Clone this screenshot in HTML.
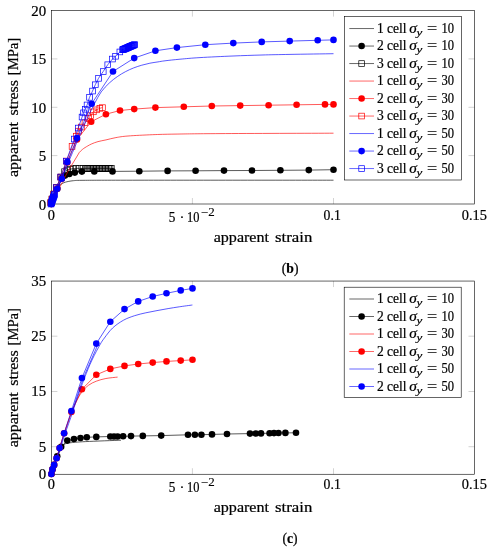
<!DOCTYPE html>
<html lang="en"><head><meta charset="utf-8"><title>Apparent stress vs apparent strain</title>
<style>html,body{margin:0;padding:0;background:#fff}body{width:493px;height:550px;overflow:hidden}svg{display:block}text{font-family:"Liberation Serif", serif;fill:#000;stroke:#000;stroke-width:0.22px}</style>
</head><body>
<svg width="493" height="550" viewBox="0 0 493 550">
<rect width="493" height="550" fill="#fff"/>
<g id="plot-b">
<path d="M192.4 204.0v-6M192.4 10.6v6" stroke="#a6a6a6" stroke-width="0.5" fill="none"/>
<path d="M333.5 204.0v-6M333.5 10.6v6" stroke="#a6a6a6" stroke-width="0.5" fill="none"/>
<path d="M51.4 58.9h6M474.5 58.9h-6" stroke="#a6a6a6" stroke-width="0.5" fill="none"/>
<path d="M51.4 107.3h6M474.5 107.3h-6" stroke="#a6a6a6" stroke-width="0.5" fill="none"/>
<path d="M51.4 155.6h6M474.5 155.6h-6" stroke="#a6a6a6" stroke-width="0.5" fill="none"/>
<rect x="51.4" y="10.6" width="423.1" height="193.4" fill="none" stroke="#000" stroke-width="0.6"/>
<path d="M51.40 204.00 C51.83 202.83 53.03 199.47 54.00 197.00 C54.97 194.53 56.37 190.98 57.20 189.20 C58.03 187.42 58.33 187.13 59.00 186.30 C59.67 185.47 60.15 184.88 61.20 184.20 C62.25 183.52 63.27 182.78 65.30 182.20 C67.33 181.62 70.02 181.02 73.40 180.70 C76.78 180.38 74.50 180.38 85.60 180.30 C96.70 180.22 98.68 180.22 140.00 180.20 C181.32 180.18 301.25 180.20 333.50 180.20" fill="none" stroke="#000" stroke-width="0.65"/>
<polyline points="51.4,204.0 53.1,197.0 57.2,188.8 61.8,178.0 65.0,175.6 69.3,174.0 74.8,172.6 81.9,171.6 94.3,171.4 112.5,171.4 139.3,171.2 167.6,170.9 195.6,170.8 224.0,170.6 252.0,170.5 280.4,170.3 308.8,170.1 333.5,169.7" fill="none" stroke="#000" stroke-width="0.65" stroke-linejoin="round" />
<circle cx="51.4" cy="204.0" r="3.3" fill="#000"/>
<circle cx="53.1" cy="197.0" r="3.3" fill="#000"/>
<circle cx="57.2" cy="188.8" r="3.3" fill="#000"/>
<circle cx="61.8" cy="178.0" r="3.3" fill="#000"/>
<circle cx="65.0" cy="175.6" r="3.3" fill="#000"/>
<circle cx="69.3" cy="174.0" r="3.3" fill="#000"/>
<circle cx="74.8" cy="172.6" r="3.3" fill="#000"/>
<circle cx="81.9" cy="171.6" r="3.3" fill="#000"/>
<circle cx="94.3" cy="171.4" r="3.3" fill="#000"/>
<circle cx="112.5" cy="171.4" r="3.3" fill="#000"/>
<circle cx="139.3" cy="171.2" r="3.3" fill="#000"/>
<circle cx="167.6" cy="170.9" r="3.3" fill="#000"/>
<circle cx="195.6" cy="170.8" r="3.3" fill="#000"/>
<circle cx="224.0" cy="170.6" r="3.3" fill="#000"/>
<circle cx="252.0" cy="170.5" r="3.3" fill="#000"/>
<circle cx="280.4" cy="170.3" r="3.3" fill="#000"/>
<circle cx="308.8" cy="170.1" r="3.3" fill="#000"/>
<circle cx="333.5" cy="169.7" r="3.3" fill="#000"/>
<polyline points="50.8,202.6 52.0,199.0 53.7,194.0 56.5,187.6 60.8,177.0 64.6,171.6 67.2,170.0 70.0,169.2 73.0,168.7 76.0,168.4 79.5,168.4 83.0,168.4 86.0,168.4 87.5,168.4 89.0,168.4 90.5,168.4 92.0,168.4 93.5,168.4 95.0,168.4 96.5,168.4 98.0,168.4 99.5,168.4 101.0,168.4 102.5,168.4 104.0,168.4 105.5,168.4 107.0,168.4 108.5,168.4 110.0,168.4 111.3,168.4" fill="none" stroke="#000" stroke-width="0.65" stroke-linejoin="round" />
<rect x="47.9" y="199.8" width="5.7" height="5.7" fill="none" stroke="#000" stroke-width="0.7"/>
<rect x="49.1" y="196.2" width="5.7" height="5.7" fill="none" stroke="#000" stroke-width="0.7"/>
<rect x="50.9" y="191.2" width="5.7" height="5.7" fill="none" stroke="#000" stroke-width="0.7"/>
<rect x="53.6" y="184.8" width="5.7" height="5.7" fill="none" stroke="#000" stroke-width="0.7"/>
<rect x="57.9" y="174.2" width="5.7" height="5.7" fill="none" stroke="#000" stroke-width="0.7"/>
<rect x="61.7" y="168.8" width="5.7" height="5.7" fill="none" stroke="#000" stroke-width="0.7"/>
<rect x="64.4" y="167.2" width="5.7" height="5.7" fill="none" stroke="#000" stroke-width="0.7"/>
<rect x="67.2" y="166.3" width="5.7" height="5.7" fill="none" stroke="#000" stroke-width="0.7"/>
<rect x="70.2" y="165.8" width="5.7" height="5.7" fill="none" stroke="#000" stroke-width="0.7"/>
<rect x="73.2" y="165.6" width="5.7" height="5.7" fill="none" stroke="#000" stroke-width="0.7"/>
<rect x="76.7" y="165.6" width="5.7" height="5.7" fill="none" stroke="#000" stroke-width="0.7"/>
<rect x="80.2" y="165.6" width="5.7" height="5.7" fill="none" stroke="#000" stroke-width="0.7"/>
<rect x="83.2" y="165.6" width="5.7" height="5.7" fill="none" stroke="#000" stroke-width="0.7"/>
<rect x="84.7" y="165.6" width="5.7" height="5.7" fill="none" stroke="#000" stroke-width="0.7"/>
<rect x="86.2" y="165.6" width="5.7" height="5.7" fill="none" stroke="#000" stroke-width="0.7"/>
<rect x="87.7" y="165.6" width="5.7" height="5.7" fill="none" stroke="#000" stroke-width="0.7"/>
<rect x="89.2" y="165.6" width="5.7" height="5.7" fill="none" stroke="#000" stroke-width="0.7"/>
<rect x="90.7" y="165.6" width="5.7" height="5.7" fill="none" stroke="#000" stroke-width="0.7"/>
<rect x="92.2" y="165.6" width="5.7" height="5.7" fill="none" stroke="#000" stroke-width="0.7"/>
<rect x="93.7" y="165.6" width="5.7" height="5.7" fill="none" stroke="#000" stroke-width="0.7"/>
<rect x="95.2" y="165.6" width="5.7" height="5.7" fill="none" stroke="#000" stroke-width="0.7"/>
<rect x="96.7" y="165.6" width="5.7" height="5.7" fill="none" stroke="#000" stroke-width="0.7"/>
<rect x="98.2" y="165.6" width="5.7" height="5.7" fill="none" stroke="#000" stroke-width="0.7"/>
<rect x="99.7" y="165.6" width="5.7" height="5.7" fill="none" stroke="#000" stroke-width="0.7"/>
<rect x="101.2" y="165.6" width="5.7" height="5.7" fill="none" stroke="#000" stroke-width="0.7"/>
<rect x="102.7" y="165.6" width="5.7" height="5.7" fill="none" stroke="#000" stroke-width="0.7"/>
<rect x="104.2" y="165.6" width="5.7" height="5.7" fill="none" stroke="#000" stroke-width="0.7"/>
<rect x="105.7" y="165.6" width="5.7" height="5.7" fill="none" stroke="#000" stroke-width="0.7"/>
<rect x="107.2" y="165.6" width="5.7" height="5.7" fill="none" stroke="#000" stroke-width="0.7"/>
<rect x="108.5" y="165.6" width="5.7" height="5.7" fill="none" stroke="#000" stroke-width="0.7"/>
<polyline points="51.4,204.0 60.0,186.8 68.3,170.7 76.0,158.0 79.4,152.3" fill="none" stroke="#f00" stroke-width="0.65" stroke-linejoin="round" />
<path d="M79.40 152.30 C79.83 151.88 81.07 150.58 82.00 149.80 C82.93 149.02 83.47 148.55 85.00 147.60 C86.53 146.65 89.03 145.10 91.20 144.10 C93.37 143.10 95.53 142.30 98.00 141.60 C100.47 140.90 103.02 140.57 106.00 139.90 C108.98 139.23 112.23 138.25 115.90 137.60 C119.57 136.95 121.92 136.48 128.00 136.00 C134.08 135.52 144.57 135.02 152.40 134.70 C160.23 134.38 163.73 134.28 175.00 134.10 C186.27 133.92 193.58 133.75 220.00 133.60 C246.42 133.45 314.58 133.27 333.50 133.20" fill="none" stroke="#f00" stroke-width="0.65"/>
<polyline points="51.4,204.0 53.1,197.0 57.2,188.8 61.8,178.7 67.3,162.5 77.0,139.5 91.2,121.7 105.9,114.2 120.0,110.5 134.2,109.1 155.4,107.6 183.8,106.8 211.8,106.0 240.2,105.6 268.6,105.2 296.6,104.8 325.0,104.4 333.5,104.4" fill="none" stroke="#f00" stroke-width="0.65" stroke-linejoin="round" />
<circle cx="51.4" cy="204.0" r="3.3" fill="#f00"/>
<circle cx="53.1" cy="197.0" r="3.3" fill="#f00"/>
<circle cx="57.2" cy="188.8" r="3.3" fill="#f00"/>
<circle cx="61.8" cy="178.7" r="3.3" fill="#f00"/>
<circle cx="67.3" cy="162.5" r="3.3" fill="#f00"/>
<circle cx="77.0" cy="139.5" r="3.3" fill="#f00"/>
<circle cx="91.2" cy="121.7" r="3.3" fill="#f00"/>
<circle cx="105.9" cy="114.2" r="3.3" fill="#f00"/>
<circle cx="120.0" cy="110.5" r="3.3" fill="#f00"/>
<circle cx="134.2" cy="109.1" r="3.3" fill="#f00"/>
<circle cx="155.4" cy="107.6" r="3.3" fill="#f00"/>
<circle cx="183.8" cy="106.8" r="3.3" fill="#f00"/>
<circle cx="211.8" cy="106.0" r="3.3" fill="#f00"/>
<circle cx="240.2" cy="105.6" r="3.3" fill="#f00"/>
<circle cx="268.6" cy="105.2" r="3.3" fill="#f00"/>
<circle cx="296.6" cy="104.8" r="3.3" fill="#f00"/>
<circle cx="325.0" cy="104.4" r="3.3" fill="#f00"/>
<circle cx="333.5" cy="104.4" r="3.3" fill="#f00"/>
<polyline points="50.8,202.6 52.0,199.0 53.7,194.0 56.5,187.6 60.8,177.0 66.5,161.0 72.1,146.4 76.4,136.2 78.5,131.2 81.4,127.0 84.9,122.7 88.5,118.4 90.6,115.6 93.3,111.8 96.6,109.8 99.8,108.3 102.4,107.6" fill="none" stroke="#f00" stroke-width="0.65" stroke-linejoin="round" />
<rect x="47.9" y="199.8" width="5.7" height="5.7" fill="none" stroke="#f00" stroke-width="0.7"/>
<rect x="49.1" y="196.2" width="5.7" height="5.7" fill="none" stroke="#f00" stroke-width="0.7"/>
<rect x="50.9" y="191.2" width="5.7" height="5.7" fill="none" stroke="#f00" stroke-width="0.7"/>
<rect x="53.6" y="184.8" width="5.7" height="5.7" fill="none" stroke="#f00" stroke-width="0.7"/>
<rect x="57.9" y="174.2" width="5.7" height="5.7" fill="none" stroke="#f00" stroke-width="0.7"/>
<rect x="63.6" y="158.2" width="5.7" height="5.7" fill="none" stroke="#f00" stroke-width="0.7"/>
<rect x="69.2" y="143.6" width="5.7" height="5.7" fill="none" stroke="#f00" stroke-width="0.7"/>
<rect x="73.6" y="133.3" width="5.7" height="5.7" fill="none" stroke="#f00" stroke-width="0.7"/>
<rect x="75.7" y="128.3" width="5.7" height="5.7" fill="none" stroke="#f00" stroke-width="0.7"/>
<rect x="78.6" y="124.2" width="5.7" height="5.7" fill="none" stroke="#f00" stroke-width="0.7"/>
<rect x="82.1" y="119.9" width="5.7" height="5.7" fill="none" stroke="#f00" stroke-width="0.7"/>
<rect x="85.7" y="115.6" width="5.7" height="5.7" fill="none" stroke="#f00" stroke-width="0.7"/>
<rect x="87.8" y="112.8" width="5.7" height="5.7" fill="none" stroke="#f00" stroke-width="0.7"/>
<rect x="90.5" y="109.0" width="5.7" height="5.7" fill="none" stroke="#f00" stroke-width="0.7"/>
<rect x="93.8" y="107.0" width="5.7" height="5.7" fill="none" stroke="#f00" stroke-width="0.7"/>
<rect x="97.0" y="105.5" width="5.7" height="5.7" fill="none" stroke="#f00" stroke-width="0.7"/>
<rect x="99.6" y="104.8" width="5.7" height="5.7" fill="none" stroke="#f00" stroke-width="0.7"/>
<path d="M51.40 204.00 C52.60 201.08 56.05 192.75 58.60 186.50 C61.15 180.25 63.35 174.58 66.70 166.50 C70.05 158.42 75.08 146.42 78.70 138.00 C82.32 129.58 85.73 121.78 88.40 116.00 C91.07 110.22 92.57 107.32 94.70 103.30 C96.83 99.28 98.77 95.28 101.20 91.90 C103.63 88.52 106.58 85.57 109.30 83.00 C112.02 80.43 114.78 78.40 117.50 76.50 C120.22 74.60 122.90 73.03 125.60 71.60 C128.30 70.17 131.00 68.97 133.70 67.90 C136.40 66.83 139.10 65.98 141.80 65.20 C144.50 64.42 147.20 63.75 149.90 63.20 C152.60 62.65 155.48 62.30 158.00 61.90 C160.52 61.50 161.33 61.25 165.00 60.80 C168.67 60.35 174.17 59.73 180.00 59.20 C185.83 58.67 191.17 58.13 200.00 57.60 C208.83 57.07 222.67 56.43 233.00 56.00 C243.33 55.57 252.50 55.27 262.00 55.00 C271.50 54.73 278.08 54.62 290.00 54.40 C301.92 54.18 326.25 53.82 333.50 53.70" fill="none" stroke="#00f" stroke-width="0.65"/>
<polyline points="51.4,204.0 53.1,197.0 57.2,188.8 61.8,178.7 67.3,161.9 77.0,138.1 91.7,103.7 113.0,71.5 134.2,58.1 155.4,50.8 176.9,47.6 205.3,44.7 233.3,43.1 261.7,41.9 289.7,41.1 317.7,40.3 333.5,39.9" fill="none" stroke="#00f" stroke-width="0.65" stroke-linejoin="round" />
<circle cx="51.4" cy="204.0" r="3.3" fill="#00f"/>
<circle cx="53.1" cy="197.0" r="3.3" fill="#00f"/>
<circle cx="57.2" cy="188.8" r="3.3" fill="#00f"/>
<circle cx="61.8" cy="178.7" r="3.3" fill="#00f"/>
<circle cx="67.3" cy="161.9" r="3.3" fill="#00f"/>
<circle cx="77.0" cy="138.1" r="3.3" fill="#00f"/>
<circle cx="91.7" cy="103.7" r="3.3" fill="#00f"/>
<circle cx="113.0" cy="71.5" r="3.3" fill="#00f"/>
<circle cx="134.2" cy="58.1" r="3.3" fill="#00f"/>
<circle cx="155.4" cy="50.8" r="3.3" fill="#00f"/>
<circle cx="176.9" cy="47.6" r="3.3" fill="#00f"/>
<circle cx="205.3" cy="44.7" r="3.3" fill="#00f"/>
<circle cx="233.3" cy="43.1" r="3.3" fill="#00f"/>
<circle cx="261.7" cy="41.9" r="3.3" fill="#00f"/>
<circle cx="289.7" cy="41.1" r="3.3" fill="#00f"/>
<circle cx="317.7" cy="40.3" r="3.3" fill="#00f"/>
<circle cx="333.5" cy="39.9" r="3.3" fill="#00f"/>
<polyline points="51.0,204.0 51.3,203.2 51.5,202.5 51.8,201.8 52.1,201.0 52.4,200.2 52.6,199.5 52.9,198.8 53.2,198.0 53.4,197.2 53.7,196.5 54.0,195.8 54.2,195.0 54.5,194.2 56.5,187.6 60.8,177.0 66.2,161.2 74.3,139.0 78.2,128.0 82.1,117.0 83.5,112.8 85.2,109.2 87.1,104.9 89.5,97.3 92.5,91.1 95.3,84.7 98.5,78.3 103.2,71.5 107.7,64.8 112.4,59.1 115.5,56.3 119.8,52.0 122.6,49.8 123.1,49.6 123.6,49.4 124.1,49.2 124.5,49.0 125.0,48.8 125.5,48.6 126.0,48.3 126.5,48.1 127.0,47.9 127.4,47.7 127.9,47.5 128.4,47.3 128.9,47.1 129.4,46.9 129.9,46.7 130.3,46.5 130.8,46.3 131.3,46.1 131.8,45.8 132.3,45.6 132.8,45.4 133.2,45.2 133.7,45.0 134.2,44.8 134.7,44.6" fill="none" stroke="#00f" stroke-width="0.65" stroke-linejoin="round" />
<rect x="48.1" y="201.2" width="5.7" height="5.7" fill="none" stroke="#00f" stroke-width="0.7"/>
<rect x="48.4" y="200.4" width="5.7" height="5.7" fill="none" stroke="#00f" stroke-width="0.7"/>
<rect x="48.7" y="199.7" width="5.7" height="5.7" fill="none" stroke="#00f" stroke-width="0.7"/>
<rect x="49.0" y="198.9" width="5.7" height="5.7" fill="none" stroke="#00f" stroke-width="0.7"/>
<rect x="49.2" y="198.2" width="5.7" height="5.7" fill="none" stroke="#00f" stroke-width="0.7"/>
<rect x="49.5" y="197.4" width="5.7" height="5.7" fill="none" stroke="#00f" stroke-width="0.7"/>
<rect x="49.8" y="196.7" width="5.7" height="5.7" fill="none" stroke="#00f" stroke-width="0.7"/>
<rect x="50.0" y="195.9" width="5.7" height="5.7" fill="none" stroke="#00f" stroke-width="0.7"/>
<rect x="50.3" y="195.2" width="5.7" height="5.7" fill="none" stroke="#00f" stroke-width="0.7"/>
<rect x="50.6" y="194.4" width="5.7" height="5.7" fill="none" stroke="#00f" stroke-width="0.7"/>
<rect x="50.9" y="193.7" width="5.7" height="5.7" fill="none" stroke="#00f" stroke-width="0.7"/>
<rect x="51.1" y="192.9" width="5.7" height="5.7" fill="none" stroke="#00f" stroke-width="0.7"/>
<rect x="51.4" y="192.2" width="5.7" height="5.7" fill="none" stroke="#00f" stroke-width="0.7"/>
<rect x="51.7" y="191.4" width="5.7" height="5.7" fill="none" stroke="#00f" stroke-width="0.7"/>
<rect x="53.6" y="184.8" width="5.7" height="5.7" fill="none" stroke="#00f" stroke-width="0.7"/>
<rect x="57.9" y="174.2" width="5.7" height="5.7" fill="none" stroke="#00f" stroke-width="0.7"/>
<rect x="63.4" y="158.3" width="5.7" height="5.7" fill="none" stroke="#00f" stroke-width="0.7"/>
<rect x="71.5" y="136.2" width="5.7" height="5.7" fill="none" stroke="#00f" stroke-width="0.7"/>
<rect x="75.4" y="125.2" width="5.7" height="5.7" fill="none" stroke="#00f" stroke-width="0.7"/>
<rect x="79.2" y="114.2" width="5.7" height="5.7" fill="none" stroke="#00f" stroke-width="0.7"/>
<rect x="80.7" y="110.0" width="5.7" height="5.7" fill="none" stroke="#00f" stroke-width="0.7"/>
<rect x="82.4" y="106.4" width="5.7" height="5.7" fill="none" stroke="#00f" stroke-width="0.7"/>
<rect x="84.2" y="102.1" width="5.7" height="5.7" fill="none" stroke="#00f" stroke-width="0.7"/>
<rect x="86.7" y="94.5" width="5.7" height="5.7" fill="none" stroke="#00f" stroke-width="0.7"/>
<rect x="89.7" y="88.2" width="5.7" height="5.7" fill="none" stroke="#00f" stroke-width="0.7"/>
<rect x="92.5" y="81.9" width="5.7" height="5.7" fill="none" stroke="#00f" stroke-width="0.7"/>
<rect x="95.7" y="75.5" width="5.7" height="5.7" fill="none" stroke="#00f" stroke-width="0.7"/>
<rect x="100.4" y="68.7" width="5.7" height="5.7" fill="none" stroke="#00f" stroke-width="0.7"/>
<rect x="104.9" y="61.9" width="5.7" height="5.7" fill="none" stroke="#00f" stroke-width="0.7"/>
<rect x="109.6" y="56.2" width="5.7" height="5.7" fill="none" stroke="#00f" stroke-width="0.7"/>
<rect x="112.7" y="53.4" width="5.7" height="5.7" fill="none" stroke="#00f" stroke-width="0.7"/>
<rect x="117.0" y="49.1" width="5.7" height="5.7" fill="none" stroke="#00f" stroke-width="0.7"/>
<rect x="119.8" y="46.9" width="5.7" height="5.7" fill="none" stroke="#00f" stroke-width="0.7"/>
<rect x="120.2" y="46.7" width="5.7" height="5.7" fill="none" stroke="#00f" stroke-width="0.7"/>
<rect x="120.7" y="46.5" width="5.7" height="5.7" fill="none" stroke="#00f" stroke-width="0.7"/>
<rect x="121.2" y="46.3" width="5.7" height="5.7" fill="none" stroke="#00f" stroke-width="0.7"/>
<rect x="121.7" y="46.1" width="5.7" height="5.7" fill="none" stroke="#00f" stroke-width="0.7"/>
<rect x="122.2" y="45.9" width="5.7" height="5.7" fill="none" stroke="#00f" stroke-width="0.7"/>
<rect x="122.7" y="45.7" width="5.7" height="5.7" fill="none" stroke="#00f" stroke-width="0.7"/>
<rect x="123.1" y="45.5" width="5.7" height="5.7" fill="none" stroke="#00f" stroke-width="0.7"/>
<rect x="123.6" y="45.3" width="5.7" height="5.7" fill="none" stroke="#00f" stroke-width="0.7"/>
<rect x="124.1" y="45.1" width="5.7" height="5.7" fill="none" stroke="#00f" stroke-width="0.7"/>
<rect x="124.6" y="44.9" width="5.7" height="5.7" fill="none" stroke="#00f" stroke-width="0.7"/>
<rect x="125.1" y="44.7" width="5.7" height="5.7" fill="none" stroke="#00f" stroke-width="0.7"/>
<rect x="125.6" y="44.5" width="5.7" height="5.7" fill="none" stroke="#00f" stroke-width="0.7"/>
<rect x="126.0" y="44.2" width="5.7" height="5.7" fill="none" stroke="#00f" stroke-width="0.7"/>
<rect x="126.5" y="44.0" width="5.7" height="5.7" fill="none" stroke="#00f" stroke-width="0.7"/>
<rect x="127.0" y="43.8" width="5.7" height="5.7" fill="none" stroke="#00f" stroke-width="0.7"/>
<rect x="127.5" y="43.6" width="5.7" height="5.7" fill="none" stroke="#00f" stroke-width="0.7"/>
<rect x="128.0" y="43.4" width="5.7" height="5.7" fill="none" stroke="#00f" stroke-width="0.7"/>
<rect x="128.5" y="43.2" width="5.7" height="5.7" fill="none" stroke="#00f" stroke-width="0.7"/>
<rect x="128.9" y="43.0" width="5.7" height="5.7" fill="none" stroke="#00f" stroke-width="0.7"/>
<rect x="129.4" y="42.8" width="5.7" height="5.7" fill="none" stroke="#00f" stroke-width="0.7"/>
<rect x="129.9" y="42.6" width="5.7" height="5.7" fill="none" stroke="#00f" stroke-width="0.7"/>
<rect x="130.4" y="42.4" width="5.7" height="5.7" fill="none" stroke="#00f" stroke-width="0.7"/>
<rect x="130.9" y="42.2" width="5.7" height="5.7" fill="none" stroke="#00f" stroke-width="0.7"/>
<rect x="131.4" y="42.0" width="5.7" height="5.7" fill="none" stroke="#00f" stroke-width="0.7"/>
<rect x="131.8" y="41.8" width="5.7" height="5.7" fill="none" stroke="#00f" stroke-width="0.7"/>
<rect x="344.4" y="16.6" width="117.20000000000005" height="163.4" fill="#fff" stroke="#000" stroke-width="0.6"/>
<path d="M349.3 28.55H374" stroke="#000" stroke-width="0.6" fill="none"/>
<text y="32.75" font-size="14.8"><tspan x="376.9" textLength="29.6" lengthAdjust="spacingAndGlyphs">1 cell</tspan> <tspan x="409.2" font-style="italic" textLength="7.6" lengthAdjust="spacingAndGlyphs">σ</tspan><tspan x="416.4" dy="2.8" font-style="italic" font-size="11" textLength="5.8" lengthAdjust="spacingAndGlyphs">y</tspan> <tspan x="427" dy="-2.8" textLength="10.2" lengthAdjust="spacingAndGlyphs">=</tspan> <tspan x="441.4" textLength="12.6" lengthAdjust="spacingAndGlyphs">10</tspan></text>
<path d="M349.3 46.05H374" stroke="#000" stroke-width="0.6" fill="none"/>
<circle cx="361.6" cy="46.0" r="3.3" fill="#000"/>
<text y="50.25" font-size="14.8"><tspan x="376.9" textLength="29.6" lengthAdjust="spacingAndGlyphs">2 cell</tspan> <tspan x="409.2" font-style="italic" textLength="7.6" lengthAdjust="spacingAndGlyphs">σ</tspan><tspan x="416.4" dy="2.8" font-style="italic" font-size="11" textLength="5.8" lengthAdjust="spacingAndGlyphs">y</tspan> <tspan x="427" dy="-2.8" textLength="10.2" lengthAdjust="spacingAndGlyphs">=</tspan> <tspan x="441.4" textLength="12.6" lengthAdjust="spacingAndGlyphs">10</tspan></text>
<path d="M349.3 63.55H374" stroke="#000" stroke-width="0.6" fill="none"/>
<rect x="358.8" y="60.7" width="5.7" height="5.7" fill="none" stroke="#000" stroke-width="0.7"/>
<text y="67.75" font-size="14.8"><tspan x="376.9" textLength="29.6" lengthAdjust="spacingAndGlyphs">3 cell</tspan> <tspan x="409.2" font-style="italic" textLength="7.6" lengthAdjust="spacingAndGlyphs">σ</tspan><tspan x="416.4" dy="2.8" font-style="italic" font-size="11" textLength="5.8" lengthAdjust="spacingAndGlyphs">y</tspan> <tspan x="427" dy="-2.8" textLength="10.2" lengthAdjust="spacingAndGlyphs">=</tspan> <tspan x="441.4" textLength="12.6" lengthAdjust="spacingAndGlyphs">10</tspan></text>
<path d="M349.3 81.05H374" stroke="#f00" stroke-width="0.6" fill="none"/>
<text y="85.25" font-size="14.8"><tspan x="376.9" textLength="29.6" lengthAdjust="spacingAndGlyphs">1 cell</tspan> <tspan x="409.2" font-style="italic" textLength="7.6" lengthAdjust="spacingAndGlyphs">σ</tspan><tspan x="416.4" dy="2.8" font-style="italic" font-size="11" textLength="5.8" lengthAdjust="spacingAndGlyphs">y</tspan> <tspan x="427" dy="-2.8" textLength="10.2" lengthAdjust="spacingAndGlyphs">=</tspan> <tspan x="441.4" textLength="12.6" lengthAdjust="spacingAndGlyphs">30</tspan></text>
<path d="M349.3 98.55H374" stroke="#f00" stroke-width="0.6" fill="none"/>
<circle cx="361.6" cy="98.5" r="3.3" fill="#f00"/>
<text y="102.75" font-size="14.8"><tspan x="376.9" textLength="29.6" lengthAdjust="spacingAndGlyphs">2 cell</tspan> <tspan x="409.2" font-style="italic" textLength="7.6" lengthAdjust="spacingAndGlyphs">σ</tspan><tspan x="416.4" dy="2.8" font-style="italic" font-size="11" textLength="5.8" lengthAdjust="spacingAndGlyphs">y</tspan> <tspan x="427" dy="-2.8" textLength="10.2" lengthAdjust="spacingAndGlyphs">=</tspan> <tspan x="441.4" textLength="12.6" lengthAdjust="spacingAndGlyphs">30</tspan></text>
<path d="M349.3 116.05H374" stroke="#f00" stroke-width="0.6" fill="none"/>
<rect x="358.8" y="113.2" width="5.7" height="5.7" fill="none" stroke="#f00" stroke-width="0.7"/>
<text y="120.25" font-size="14.8"><tspan x="376.9" textLength="29.6" lengthAdjust="spacingAndGlyphs">3 cell</tspan> <tspan x="409.2" font-style="italic" textLength="7.6" lengthAdjust="spacingAndGlyphs">σ</tspan><tspan x="416.4" dy="2.8" font-style="italic" font-size="11" textLength="5.8" lengthAdjust="spacingAndGlyphs">y</tspan> <tspan x="427" dy="-2.8" textLength="10.2" lengthAdjust="spacingAndGlyphs">=</tspan> <tspan x="441.4" textLength="12.6" lengthAdjust="spacingAndGlyphs">30</tspan></text>
<path d="M349.3 133.55H374" stroke="#00f" stroke-width="0.6" fill="none"/>
<text y="137.75" font-size="14.8"><tspan x="376.9" textLength="29.6" lengthAdjust="spacingAndGlyphs">1 cell</tspan> <tspan x="409.2" font-style="italic" textLength="7.6" lengthAdjust="spacingAndGlyphs">σ</tspan><tspan x="416.4" dy="2.8" font-style="italic" font-size="11" textLength="5.8" lengthAdjust="spacingAndGlyphs">y</tspan> <tspan x="427" dy="-2.8" textLength="10.2" lengthAdjust="spacingAndGlyphs">=</tspan> <tspan x="441.4" textLength="12.6" lengthAdjust="spacingAndGlyphs">50</tspan></text>
<path d="M349.3 151.05H374" stroke="#00f" stroke-width="0.6" fill="none"/>
<circle cx="361.6" cy="151.1" r="3.3" fill="#00f"/>
<text y="155.25" font-size="14.8"><tspan x="376.9" textLength="29.6" lengthAdjust="spacingAndGlyphs">2 cell</tspan> <tspan x="409.2" font-style="italic" textLength="7.6" lengthAdjust="spacingAndGlyphs">σ</tspan><tspan x="416.4" dy="2.8" font-style="italic" font-size="11" textLength="5.8" lengthAdjust="spacingAndGlyphs">y</tspan> <tspan x="427" dy="-2.8" textLength="10.2" lengthAdjust="spacingAndGlyphs">=</tspan> <tspan x="441.4" textLength="12.6" lengthAdjust="spacingAndGlyphs">50</tspan></text>
<path d="M349.3 168.55H374" stroke="#00f" stroke-width="0.6" fill="none"/>
<rect x="358.8" y="165.7" width="5.7" height="5.7" fill="none" stroke="#00f" stroke-width="0.7"/>
<text y="172.75" font-size="14.8"><tspan x="376.9" textLength="29.6" lengthAdjust="spacingAndGlyphs">3 cell</tspan> <tspan x="409.2" font-style="italic" textLength="7.6" lengthAdjust="spacingAndGlyphs">σ</tspan><tspan x="416.4" dy="2.8" font-style="italic" font-size="11" textLength="5.8" lengthAdjust="spacingAndGlyphs">y</tspan> <tspan x="427" dy="-2.8" textLength="10.2" lengthAdjust="spacingAndGlyphs">=</tspan> <tspan x="441.4" textLength="12.6" lengthAdjust="spacingAndGlyphs">50</tspan></text>
<text x="31.300000000000004" y="16.1" font-size="14.8" text-anchor="start" textLength="14.9" lengthAdjust="spacingAndGlyphs"  style="">20</text>
<text x="31.300000000000004" y="64.4" font-size="14.8" text-anchor="start" textLength="14.9" lengthAdjust="spacingAndGlyphs"  style="">15</text>
<text x="31.300000000000004" y="112.8" font-size="14.8" text-anchor="start" textLength="14.9" lengthAdjust="spacingAndGlyphs"  style="">10</text>
<text x="38.75" y="161.1" font-size="14.8" text-anchor="start" textLength="7.45" lengthAdjust="spacingAndGlyphs"  style="">5</text>
<text x="38.75" y="209.5" font-size="14.8" text-anchor="start" textLength="7.45" lengthAdjust="spacingAndGlyphs"  style="">0</text>
<text x="47.8" y="219.8" font-size="14.8" text-anchor="start" textLength="7.2" lengthAdjust="spacingAndGlyphs"  style="">0</text>
<text y="222.4" font-size="14.8"><tspan x="168.8" textLength="6.6" lengthAdjust="spacingAndGlyphs">5</tspan> <tspan x="179.6">·</tspan> <tspan x="187.1" textLength="12.4" lengthAdjust="spacingAndGlyphs">10</tspan><tspan x="201" dy="-6.0" font-size="11.5" textLength="13.8" stroke-width="0.1" lengthAdjust="spacingAndGlyphs">−2</tspan></text>
<text x="323.6" y="219.8" font-size="14.8" text-anchor="start" textLength="17.2" lengthAdjust="spacingAndGlyphs"  style="">0.1</text>
<text x="461.8" y="219.8" font-size="14.8" text-anchor="start" textLength="25.2" lengthAdjust="spacingAndGlyphs"  style="">0.15</text>
<text y="242.0" font-size="15.2"><tspan x="213.7" textLength="55.3" lengthAdjust="spacingAndGlyphs">apparent</tspan> <tspan x="275" textLength="37.3" lengthAdjust="spacingAndGlyphs">strain</tspan></text>
<text transform="translate(17.6,177) rotate(-90)" font-size="15.2"><tspan x="0" textLength="54.8" lengthAdjust="spacingAndGlyphs">apparent</tspan> <tspan x="61.5" textLength="35.5" lengthAdjust="spacingAndGlyphs">stress</tspan> <tspan x="101.8" textLength="37.4" lengthAdjust="spacingAndGlyphs">[MPa]</tspan></text>
<text x="281.8" y="273.3" font-size="13.6">(<tspan font-weight="bold">b</tspan>)</text>
</g>
<g id="plot-c">
<path d="M192.4 474.25v-6M192.4 281.05v6" stroke="#a6a6a6" stroke-width="0.5" fill="none"/>
<path d="M333.5 474.25v-6M333.5 281.05v6" stroke="#a6a6a6" stroke-width="0.5" fill="none"/>
<path d="M51.4 336.2h6M474.5 336.2h-6" stroke="#a6a6a6" stroke-width="0.5" fill="none"/>
<path d="M51.4 391.5h6M474.5 391.5h-6" stroke="#a6a6a6" stroke-width="0.5" fill="none"/>
<path d="M51.4 446.7h6M474.5 446.7h-6" stroke="#a6a6a6" stroke-width="0.5" fill="none"/>
<rect x="51.4" y="281.05" width="423.1" height="193.2" fill="none" stroke="#000" stroke-width="0.6"/>
<path d="M51.40 474.00 C51.83 472.67 53.07 468.67 54.00 466.00 C54.93 463.33 56.00 460.62 57.00 458.00 C58.00 455.38 59.08 452.30 60.00 450.30 C60.92 448.30 61.62 447.08 62.50 446.00 C63.38 444.92 64.05 444.33 65.30 443.80 C66.55 443.27 66.62 443.17 70.00 442.80 C73.38 442.43 77.10 442.03 85.60 441.60 C94.10 441.17 115.10 440.43 121.00 440.20" fill="none" stroke="#000" stroke-width="0.65"/>
<polyline points="51.4,474.0 52.5,469.4 54.1,464.9 57.2,456.2 61.2,446.7 67.3,440.6 74.0,439.0 80.5,438.0 86.8,437.3 96.3,436.9 110.3,436.5 114.0,436.5 117.6,436.5 123.1,436.3 131.0,436.1 142.8,435.9 161.2,435.6 188.0,434.8 194.9,434.8 201.4,434.7 212.0,434.4 227.0,434.0 250.0,433.6 255.8,433.5 261.0,433.4 269.6,433.2 274.0,433.1 278.5,433.0 285.4,432.9 296.0,432.8" fill="none" stroke="#000" stroke-width="0.65" stroke-linejoin="round" />
<circle cx="51.4" cy="474.0" r="3.3" fill="#000"/>
<circle cx="52.5" cy="469.4" r="3.3" fill="#000"/>
<circle cx="54.1" cy="464.9" r="3.3" fill="#000"/>
<circle cx="57.2" cy="456.2" r="3.3" fill="#000"/>
<circle cx="61.2" cy="446.7" r="3.3" fill="#000"/>
<circle cx="67.3" cy="440.6" r="3.3" fill="#000"/>
<circle cx="74.0" cy="439.0" r="3.3" fill="#000"/>
<circle cx="80.5" cy="438.0" r="3.3" fill="#000"/>
<circle cx="86.8" cy="437.3" r="3.3" fill="#000"/>
<circle cx="96.3" cy="436.9" r="3.3" fill="#000"/>
<circle cx="110.3" cy="436.5" r="3.3" fill="#000"/>
<circle cx="114.0" cy="436.5" r="3.3" fill="#000"/>
<circle cx="117.6" cy="436.5" r="3.3" fill="#000"/>
<circle cx="123.1" cy="436.3" r="3.3" fill="#000"/>
<circle cx="131.0" cy="436.1" r="3.3" fill="#000"/>
<circle cx="142.8" cy="435.9" r="3.3" fill="#000"/>
<circle cx="161.2" cy="435.6" r="3.3" fill="#000"/>
<circle cx="188.0" cy="434.8" r="3.3" fill="#000"/>
<circle cx="194.9" cy="434.8" r="3.3" fill="#000"/>
<circle cx="201.4" cy="434.7" r="3.3" fill="#000"/>
<circle cx="212.0" cy="434.4" r="3.3" fill="#000"/>
<circle cx="227.0" cy="434.0" r="3.3" fill="#000"/>
<circle cx="250.0" cy="433.6" r="3.3" fill="#000"/>
<circle cx="255.8" cy="433.5" r="3.3" fill="#000"/>
<circle cx="261.0" cy="433.4" r="3.3" fill="#000"/>
<circle cx="269.6" cy="433.2" r="3.3" fill="#000"/>
<circle cx="274.0" cy="433.1" r="3.3" fill="#000"/>
<circle cx="278.5" cy="433.0" r="3.3" fill="#000"/>
<circle cx="285.4" cy="432.9" r="3.3" fill="#000"/>
<circle cx="296.0" cy="432.8" r="3.3" fill="#000"/>
<path d="M51.40 474.00 C52.77 469.75 57.48 455.17 59.60 448.50 C61.72 441.83 62.13 439.92 64.10 434.00 C66.07 428.08 69.42 418.33 71.40 413.00 C73.38 407.67 74.25 405.50 76.00 402.00 C77.75 398.50 79.80 394.80 81.90 392.00 C84.00 389.20 86.20 387.00 88.60 385.20 C91.00 383.40 93.42 382.32 96.30 381.20 C99.18 380.08 102.35 379.18 105.90 378.50 C109.45 377.82 115.65 377.33 117.60 377.10" fill="none" stroke="#f00" stroke-width="0.65"/>
<polyline points="51.4,474.0 52.5,469.4 54.1,464.9 56.6,458.2 59.6,448.1 64.1,433.3 71.4,412.0 81.9,389.3 96.3,374.8 110.3,368.9 124.5,365.9 138.2,364.0 152.7,362.6 166.5,361.4 180.7,360.6 192.5,359.8" fill="none" stroke="#f00" stroke-width="0.65" stroke-linejoin="round" />
<circle cx="51.4" cy="474.0" r="3.3" fill="#f00"/>
<circle cx="52.5" cy="469.4" r="3.3" fill="#f00"/>
<circle cx="54.1" cy="464.9" r="3.3" fill="#f00"/>
<circle cx="56.6" cy="458.2" r="3.3" fill="#f00"/>
<circle cx="59.6" cy="448.1" r="3.3" fill="#f00"/>
<circle cx="64.1" cy="433.3" r="3.3" fill="#f00"/>
<circle cx="71.4" cy="412.0" r="3.3" fill="#f00"/>
<circle cx="81.9" cy="389.3" r="3.3" fill="#f00"/>
<circle cx="96.3" cy="374.8" r="3.3" fill="#f00"/>
<circle cx="110.3" cy="368.9" r="3.3" fill="#f00"/>
<circle cx="124.5" cy="365.9" r="3.3" fill="#f00"/>
<circle cx="138.2" cy="364.0" r="3.3" fill="#f00"/>
<circle cx="152.7" cy="362.6" r="3.3" fill="#f00"/>
<circle cx="166.5" cy="361.4" r="3.3" fill="#f00"/>
<circle cx="180.7" cy="360.6" r="3.3" fill="#f00"/>
<circle cx="192.5" cy="359.8" r="3.3" fill="#f00"/>
<path d="M51.40 474.00 C52.15 471.83 54.42 465.25 55.90 461.00 C57.38 456.75 58.78 453.00 60.30 448.50 C61.82 444.00 62.97 440.00 65.00 434.00 C67.03 428.00 70.57 418.17 72.50 412.50 C74.43 406.83 74.62 405.72 76.60 400.00 C78.58 394.28 81.83 384.87 84.40 378.20 C86.97 371.53 89.40 365.58 92.00 360.00 C94.60 354.42 97.93 348.37 100.00 344.70 C102.07 341.03 102.30 340.78 104.40 338.00 C106.50 335.22 109.42 330.97 112.60 328.00 C115.78 325.03 119.83 322.25 123.50 320.20 C127.17 318.15 130.88 316.93 134.60 315.70 C138.32 314.47 142.07 313.65 145.80 312.80 C149.53 311.95 153.28 311.30 157.00 310.60 C160.72 309.90 164.38 309.23 168.10 308.60 C171.82 307.97 175.25 307.40 179.30 306.80 C183.35 306.20 190.22 305.30 192.40 305.00" fill="none" stroke="#00f" stroke-width="0.65"/>
<polyline points="72.0,411.8 83.2,378.2 98.3,343.6" fill="none" stroke="#00f" stroke-width="0.65" stroke-linejoin="round" />
<polyline points="51.4,474.0 52.5,469.4 54.1,464.9 56.6,458.2 59.6,448.1 64.1,433.3 71.4,411.0 81.9,378.1 96.3,343.6 110.3,321.7 124.5,309.1 138.2,301.4 152.7,296.5 166.5,293.3 180.7,290.4 192.5,288.4" fill="none" stroke="#00f" stroke-width="0.65" stroke-linejoin="round" />
<circle cx="51.4" cy="474.0" r="3.3" fill="#00f"/>
<circle cx="52.5" cy="469.4" r="3.3" fill="#00f"/>
<circle cx="54.1" cy="464.9" r="3.3" fill="#00f"/>
<circle cx="56.6" cy="458.2" r="3.3" fill="#00f"/>
<circle cx="59.6" cy="448.1" r="3.3" fill="#00f"/>
<circle cx="64.1" cy="433.3" r="3.3" fill="#00f"/>
<circle cx="71.4" cy="411.0" r="3.3" fill="#00f"/>
<circle cx="81.9" cy="378.1" r="3.3" fill="#00f"/>
<circle cx="96.3" cy="343.6" r="3.3" fill="#00f"/>
<circle cx="110.3" cy="321.7" r="3.3" fill="#00f"/>
<circle cx="124.5" cy="309.1" r="3.3" fill="#00f"/>
<circle cx="138.2" cy="301.4" r="3.3" fill="#00f"/>
<circle cx="152.7" cy="296.5" r="3.3" fill="#00f"/>
<circle cx="166.5" cy="293.3" r="3.3" fill="#00f"/>
<circle cx="180.7" cy="290.4" r="3.3" fill="#00f"/>
<circle cx="192.5" cy="288.4" r="3.3" fill="#00f"/>
<rect x="344.2" y="287.2" width="117.0" height="110.40000000000003" fill="#fff" stroke="#000" stroke-width="0.6"/>
<path d="M349.3 299.00H374" stroke="#000" stroke-width="0.6" fill="none"/>
<text y="303.20" font-size="14.8"><tspan x="376.9" textLength="29.6" lengthAdjust="spacingAndGlyphs">1 cell</tspan> <tspan x="409.2" font-style="italic" textLength="7.6" lengthAdjust="spacingAndGlyphs">σ</tspan><tspan x="416.4" dy="2.8" font-style="italic" font-size="11" textLength="5.8" lengthAdjust="spacingAndGlyphs">y</tspan> <tspan x="427" dy="-2.8" textLength="10.2" lengthAdjust="spacingAndGlyphs">=</tspan> <tspan x="441.4" textLength="12.6" lengthAdjust="spacingAndGlyphs">10</tspan></text>
<path d="M349.3 316.50H374" stroke="#000" stroke-width="0.6" fill="none"/>
<circle cx="361.6" cy="316.5" r="3.3" fill="#000"/>
<text y="320.70" font-size="14.8"><tspan x="376.9" textLength="29.6" lengthAdjust="spacingAndGlyphs">2 cell</tspan> <tspan x="409.2" font-style="italic" textLength="7.6" lengthAdjust="spacingAndGlyphs">σ</tspan><tspan x="416.4" dy="2.8" font-style="italic" font-size="11" textLength="5.8" lengthAdjust="spacingAndGlyphs">y</tspan> <tspan x="427" dy="-2.8" textLength="10.2" lengthAdjust="spacingAndGlyphs">=</tspan> <tspan x="441.4" textLength="12.6" lengthAdjust="spacingAndGlyphs">10</tspan></text>
<path d="M349.3 334.00H374" stroke="#f00" stroke-width="0.6" fill="none"/>
<text y="338.20" font-size="14.8"><tspan x="376.9" textLength="29.6" lengthAdjust="spacingAndGlyphs">1 cell</tspan> <tspan x="409.2" font-style="italic" textLength="7.6" lengthAdjust="spacingAndGlyphs">σ</tspan><tspan x="416.4" dy="2.8" font-style="italic" font-size="11" textLength="5.8" lengthAdjust="spacingAndGlyphs">y</tspan> <tspan x="427" dy="-2.8" textLength="10.2" lengthAdjust="spacingAndGlyphs">=</tspan> <tspan x="441.4" textLength="12.6" lengthAdjust="spacingAndGlyphs">30</tspan></text>
<path d="M349.3 351.50H374" stroke="#f00" stroke-width="0.6" fill="none"/>
<circle cx="361.6" cy="351.5" r="3.3" fill="#f00"/>
<text y="355.70" font-size="14.8"><tspan x="376.9" textLength="29.6" lengthAdjust="spacingAndGlyphs">2 cell</tspan> <tspan x="409.2" font-style="italic" textLength="7.6" lengthAdjust="spacingAndGlyphs">σ</tspan><tspan x="416.4" dy="2.8" font-style="italic" font-size="11" textLength="5.8" lengthAdjust="spacingAndGlyphs">y</tspan> <tspan x="427" dy="-2.8" textLength="10.2" lengthAdjust="spacingAndGlyphs">=</tspan> <tspan x="441.4" textLength="12.6" lengthAdjust="spacingAndGlyphs">30</tspan></text>
<path d="M349.3 369.00H374" stroke="#00f" stroke-width="0.6" fill="none"/>
<text y="373.20" font-size="14.8"><tspan x="376.9" textLength="29.6" lengthAdjust="spacingAndGlyphs">1 cell</tspan> <tspan x="409.2" font-style="italic" textLength="7.6" lengthAdjust="spacingAndGlyphs">σ</tspan><tspan x="416.4" dy="2.8" font-style="italic" font-size="11" textLength="5.8" lengthAdjust="spacingAndGlyphs">y</tspan> <tspan x="427" dy="-2.8" textLength="10.2" lengthAdjust="spacingAndGlyphs">=</tspan> <tspan x="441.4" textLength="12.6" lengthAdjust="spacingAndGlyphs">50</tspan></text>
<path d="M349.3 386.50H374" stroke="#00f" stroke-width="0.6" fill="none"/>
<circle cx="361.6" cy="386.5" r="3.3" fill="#00f"/>
<text y="390.70" font-size="14.8"><tspan x="376.9" textLength="29.6" lengthAdjust="spacingAndGlyphs">2 cell</tspan> <tspan x="409.2" font-style="italic" textLength="7.6" lengthAdjust="spacingAndGlyphs">σ</tspan><tspan x="416.4" dy="2.8" font-style="italic" font-size="11" textLength="5.8" lengthAdjust="spacingAndGlyphs">y</tspan> <tspan x="427" dy="-2.8" textLength="10.2" lengthAdjust="spacingAndGlyphs">=</tspan> <tspan x="441.4" textLength="12.6" lengthAdjust="spacingAndGlyphs">50</tspan></text>
<text x="31.300000000000004" y="286.2" font-size="14.8" text-anchor="start" textLength="14.9" lengthAdjust="spacingAndGlyphs"  style="">35</text>
<text x="31.300000000000004" y="341.3" font-size="14.8" text-anchor="start" textLength="14.9" lengthAdjust="spacingAndGlyphs"  style="">25</text>
<text x="31.300000000000004" y="396.4" font-size="14.8" text-anchor="start" textLength="14.9" lengthAdjust="spacingAndGlyphs"  style="">15</text>
<text x="38.75" y="451.55" font-size="14.8" text-anchor="start" textLength="7.45" lengthAdjust="spacingAndGlyphs"  style="">5</text>
<text x="38.75" y="479.1" font-size="14.8" text-anchor="start" textLength="7.45" lengthAdjust="spacingAndGlyphs"  style="">0</text>
<text x="47.8" y="489.3" font-size="14.8" text-anchor="start" textLength="7.2" lengthAdjust="spacingAndGlyphs"  style="">0</text>
<text y="491.90000000000003" font-size="14.8"><tspan x="168.8" textLength="6.6" lengthAdjust="spacingAndGlyphs">5</tspan> <tspan x="179.6">·</tspan> <tspan x="187.1" textLength="12.4" lengthAdjust="spacingAndGlyphs">10</tspan><tspan x="201" dy="-6.0" font-size="11.5" textLength="13.8" stroke-width="0.1" lengthAdjust="spacingAndGlyphs">−2</tspan></text>
<text x="323.6" y="489.3" font-size="14.8" text-anchor="start" textLength="17.2" lengthAdjust="spacingAndGlyphs"  style="">0.1</text>
<text x="461.8" y="489.3" font-size="14.8" text-anchor="start" textLength="25.2" lengthAdjust="spacingAndGlyphs"  style="">0.15</text>
<text y="512.4" font-size="15.2"><tspan x="213.7" textLength="55.3" lengthAdjust="spacingAndGlyphs">apparent</tspan> <tspan x="275" textLength="37.3" lengthAdjust="spacingAndGlyphs">strain</tspan></text>
<text transform="translate(17.6,447.2) rotate(-90)" font-size="15.2"><tspan x="0" textLength="54.8" lengthAdjust="spacingAndGlyphs">apparent</tspan> <tspan x="61.5" textLength="35.5" lengthAdjust="spacingAndGlyphs">stress</tspan> <tspan x="101.8" textLength="37.4" lengthAdjust="spacingAndGlyphs">[MPa]</tspan></text>
<text x="282.4" y="542.6" font-size="13.6">(<tspan font-weight="bold">c</tspan>)</text>
</g>
</svg></body></html>
